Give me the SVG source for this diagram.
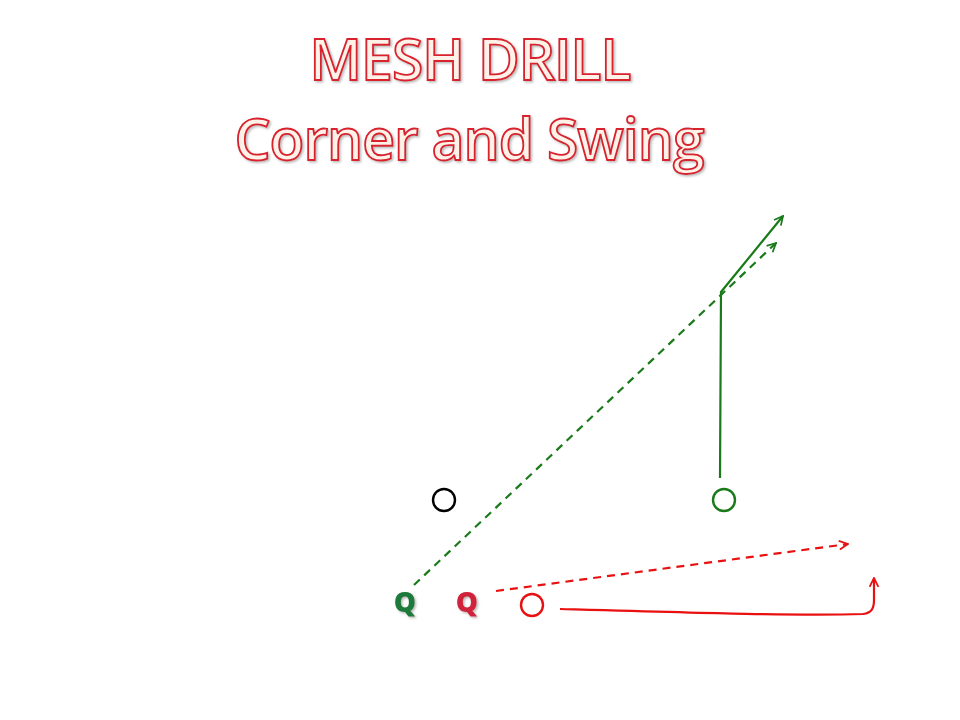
<svg xmlns="http://www.w3.org/2000/svg" width="960" height="720" viewBox="0 0 960 720">
<style>
.title{font-family:"Open Sans","Liberation Sans",sans-serif;font-weight:600;font-size:57px;fill:#fdf1e8;stroke:#d8202e;stroke-width:1.8;text-anchor:middle;letter-spacing:-1px}
.q{font-family:"Open Sans","Liberation Sans",sans-serif;font-weight:800;font-size:28px;text-anchor:middle}
.g{stroke:#1a7a1a;stroke-width:2.2;fill:none}
.r{stroke:#e81010;stroke-width:2.2;fill:none}
.dash{stroke-dasharray:8 6}
</style>
<defs>
<marker id="ag" viewBox="0 0 10 10" refX="9" refY="5" markerWidth="11" markerHeight="11" orient="auto" markerUnits="userSpaceOnUse">
<path d="M1,1 L9,5 L1,9" fill="none" stroke="#1a7a1a" stroke-width="1.6"/>
</marker>
<marker id="ar" viewBox="0 0 10 10" refX="9" refY="5" markerWidth="11" markerHeight="11" orient="auto" markerUnits="userSpaceOnUse">
<path d="M1,1 L9,5 L1,9" fill="none" stroke="#e81010" stroke-width="1.6"/>
</marker>
<filter id="sh" x="-20%" y="-20%" width="140%" height="140%">
<feDropShadow dx="1.5" dy="1.5" stdDeviation="1" flood-color="#888" flood-opacity="0.6"/>
</filter>
</defs>
<g id="title" filter="url(#sh)">
<text class="title" x="470" y="80">MESH DRILL</text>
<text class="title" x="469" y="160">Corner and Swing</text>
</g>
<g id="connectors">
<path class="g dash" d="M414,585 L776,243" marker-end="url(#ag)"/>
<path class="g" d="M720,478 L721,292 L783,216" marker-end="url(#ag)"/>
<path class="r dash" d="M496,591 L848,544" marker-end="url(#ar)"/>
<path class="r" d="M560,609 C700,613 800,616 863,614 C872,613 874,608 874,600 L874,578" marker-end="url(#ar)"/>
</g>
<g id="node-black">
<circle cx="444" cy="500" r="11" fill="#fff" stroke="#000" stroke-width="2.4"/>
</g>
<g id="node-green">
<circle cx="724" cy="500" r="11" fill="#fff" stroke="#1a7a1a" stroke-width="2.4"/>
</g>
<g id="node-red">
<circle cx="532" cy="605" r="11" fill="#fff" stroke="#e81010" stroke-width="2.4"/>
</g>
<g id="q-green" filter="url(#sh)">
<text class="q" x="405" y="612" fill="#1a7a3a">Q</text>
</g>
<g id="q-red" filter="url(#sh)">
<text class="q" x="467" y="612" fill="#d0203a">Q</text>
</g>
</svg>
